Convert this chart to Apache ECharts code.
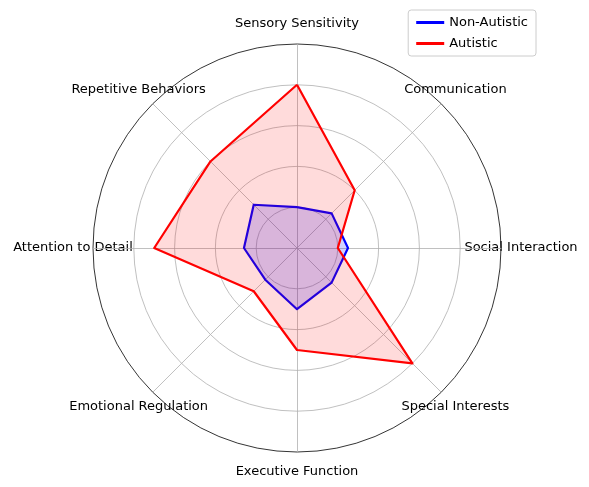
<!DOCTYPE html>
<html><head><meta charset="utf-8">
<script src="https://cdn.jsdelivr.net/npm/echarts@6/dist/echarts.min.js"></script>
<style>html,body{margin:0;padding:0;background:#fff}#c{width:589px;height:487px}</style>
</head><body><div id="c"></div>
<script>
// counterclockwise order starting at top
const categories = ['Sensory Sensitivity','Repetitive Behaviors','Attention to Detail','Emotional Regulation','Executive Function','Special Interests','Social Interaction','Communication'];
const nonAutistic = [1, 1.5, 1.3, 1.1, 1.5, 1.2, 1.25, 1.2];
const autistic = [4, 3, 3.5, 1.5, 2.5, 4, 1, 2];
const CX = 297, CY = 248, R = 204, LR = 224;
const labels = categories.map((n,i)=>{
  const a = Math.PI/2 + i*2*Math.PI/categories.length;
  return {type:'text',x:CX+LR*Math.cos(a),y:CY-LR*Math.sin(a),
    style:{text:n,fill:'#000',font:'13px DejaVu Sans',textAlign:'center',textVerticalAlign:'middle'}};
});
const chart = echarts.init(document.getElementById('c'));
chart.setOption({
  animation:false,
  textStyle:{fontFamily:'DejaVu Sans'},
  legend:{right:53,top:10,orient:'vertical',itemWidth:28,itemHeight:3,itemGap:8,
    borderColor:'#ccc',borderWidth:1,borderRadius:3,padding:[6,8],
    textStyle:{fontSize:13,color:'#000'},
    data:[{name:'Non-Autistic',icon:'rect'},{name:'Autistic',icon:'rect'}]},
  radar:{center:[CX,CY],radius:R,startAngle:90,shape:'circle',splitNumber:5,
    indicator:categories.map(n=>({name:n,max:5})),
    axisName:{show:false},
    splitArea:{show:false},
    axisLine:{lineStyle:{color:'#b0b0b0',width:0.8}},
    splitLine:{lineStyle:{color:['#b0b0b0','#b0b0b0','#b0b0b0','#b0b0b0','#b0b0b0','#000'],width:0.8}}},
  graphic:labels,
  series:[{type:'radar',symbol:'none',data:[
    {name:'Non-Autistic',value:nonAutistic,lineStyle:{color:'#0000ff',width:2.2},itemStyle:{color:'#0000ff'},areaStyle:{color:'rgba(0,0,255,0.25)'}},
    {name:'Autistic',value:autistic,lineStyle:{color:'#ff0000',width:2.2},itemStyle:{color:'#ff0000'},areaStyle:{color:'rgba(255,0,0,0.2)'}}
  ]}]
});
</script></body></html>
